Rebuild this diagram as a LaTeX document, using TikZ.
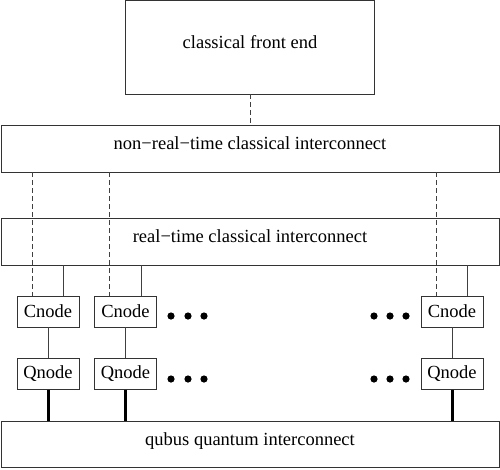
\documentclass[tikz,border=0pt]{standalone}
\usepackage{fontspec}
\setmainfont{Liberation Serif}
\usetikzlibrary{calc}
\tikzset{
  bigbox/.style={draw=black!80, line width=0.8pt, rectangle, inner sep=0pt,
    font=\fontsize{18.5}{22}\selectfont, text height=12.6pt, text depth=10pt},
  smallbox/.style={draw=black!80, line width=0.8pt, rectangle, inner sep=0pt,
    minimum width=62pt, minimum height=31pt, font=\fontsize{18.5}{22}\selectfont},
  thin/.style={draw=black!75, line width=0.8pt},
  dashline/.style={draw=black!75, line width=0.8pt, dash pattern=on 5pt off 3pt},
  thickline/.style={draw=black, line width=3pt},
  dot/.style={fill=black}
}
\begin{document}
\begin{tikzpicture}[x=1pt,y=-1pt]
\useasboundingbox (0,0) rectangle (500,469);
\node[bigbox, minimum width=249pt, minimum height=93.5pt] (fe) at (250,47.25) {classical front end};
\node[bigbox, minimum width=498pt, minimum height=47pt] (nrt) at (250,148.5) {non−real−time classical interconnect};
\node[bigbox, minimum width=498pt, minimum height=47pt] (rt) at (250,241.5) {real−time classical interconnect};
\node[bigbox, minimum width=498pt, minimum height=46pt] (qb) at (250,444) {qubus quantum interconnect};

\node[smallbox] (c1) at (48,311.5) {Cnode};
\node[smallbox] (c2) at (125.5,311.5) {Cnode};
\node[smallbox] (c3) at (452,311.5) {Cnode};
\node[smallbox] (q1) at (48,374) {Qnode};
\node[smallbox] (q2) at (125.5,374) {Qnode};
\node[smallbox] (q3) at (452,374) {Qnode};

\draw[dashline] (fe.south) -- (nrt.north);
\foreach \c in {c1,c2,c3}{
  \draw[dashline] ([xshift=-16pt]\c.north |- nrt.south) -- ([xshift=-16pt]\c.north);
  \draw[thin] ([xshift=15.5pt]\c.north |- rt.south) -- ([xshift=15.5pt]\c.north);
}
\draw[thin] (c1) -- (q1);
\draw[thin] (c2) -- (q2);
\draw[thin] (c3) -- (q3);
\draw[thickline] (q1.south) -- (q1.south |- qb.north);
\draw[thickline] (q2.south) -- (q2.south |- qb.north);
\draw[thickline] (q3.south) -- (q3.south |- qb.north);

\foreach \x in {171,188,204,374,390,406}{
  \fill[dot] (\x,316) circle (3.6pt);
  \fill[dot] (\x,379) circle (3.6pt);
}
\end{tikzpicture}
\end{document}
